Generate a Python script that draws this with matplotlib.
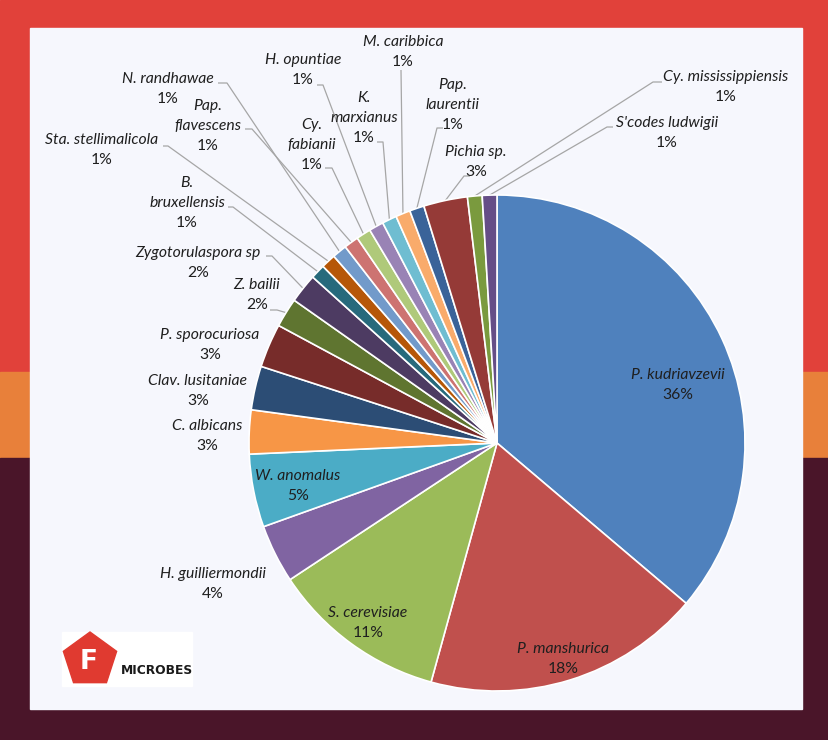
import numpy as np
import matplotlib
matplotlib.use("Agg")
import matplotlib.pyplot as plt
from matplotlib.patches import Rectangle, RegularPolygon

plt.rcParams['font.family'] = ['Lato', 'DejaVu Sans']

# isolates per species (105 in total), clockwise from 12 o'clock
species = ["P. kudriavzevii", "P. manshurica", "S. cerevisiae", "H. guilliermondii",
           "W. anomalus", "C. albicans", "Clav. lusitaniae", "P. sporocuriosa",
           "Z. bailii", "Zygotorulaspora sp", "B. bruxellensis", "Sta. stellimalicola",
           "N. randhawae", "Pap. flavescens", "Cy. fabianii", "H. opuntiae",
           "K. marxianus", "M. caribbica", "Pap. laurentii", "Pichia sp.",
           "Cy. mississippiensis", "S'codes ludwigii"]
counts = [38, 19, 12, 4, 5, 3, 3, 3, 2, 2, 1, 1, 1, 1, 1, 1, 1, 1, 1, 3, 1, 1]

colors = ["#4F81BD", "#C0504D", "#9BBB59", "#8064A2", "#4BACC6", "#F79646",
          "#2C4D75", "#772C2A", "#5F7530", "#4D3B62", "#276A7C", "#B65708",
          "#729ACA", "#CD7371", "#AFC97A", "#9983B5", "#6FBDD1", "#F9AB6B",
          "#3A6399", "#953A37", "#7A9A3E", "#654E87"]

# label layout (pixels, y down): centre x, first line y, leader stub (x0, x1, y)
inside = {"P. kudriavzevii": (678, 375), "P. manshurica": (563, 649),
          "S. cerevisiae": (368, 613), "W. anomalus": (298, 476)}
outside = {
    "H. guilliermondii": (213, 574, None),
    "C. albicans": (207, 426, None),
    "Clav. lusitaniae": (198, 381, None),
    "P. sporocuriosa": (210, 335, None),
    "Z. bailii": (257, 285, (270, 277, 310)),
    "Zygotorulaspora sp": (198, 253, (266, 272, 256)),
    "B. bruxellensis": (187, 183, (228, 233, 207)),
    "Sta. stellimalicola": (102, 140, (163, 168, 146)),
    "N. randhawae": (168, 79, (218, 227, 83)),
    "Pap. flavescens": (208, 106, (245, 252, 129)),
    "Cy. fabianii": (312, 125, (325, 332, 168)),
    "H. opuntiae": (303, 60, (317, 323, 85)),
    "K. marxianus": (364, 98, (377, 383, 142)),
    "M. caribbica": (403, 42, (401, 401, 70)),
    "Pap. laurentii": (453, 85, (443, 437, 128)),
    "Pichia sp.": (476, 152, (470, 464, 176)),
    "Cy. mississippiensis": (726, 77, (662, 653, 82)),
    "S'codes ludwigii": (667, 123, (613, 607, 127)),
}
wrap = {"B. bruxellensis": "B.\nbruxellensis", "Pap. flavescens": "Pap.\nflavescens",
        "Cy. fabianii": "Cy.\nfabianii", "K. marxianus": "K.\nmarxianus",
        "Pap. laurentii": "Pap.\nlaurentii"}

fig = plt.figure(figsize=(8.29, 7.40), dpi=100)
ax = fig.add_axes([0, 0, 1, 1])

# backdrop
ax.add_patch(Rectangle((0, 0), 829, 372, color="#E1413A", zorder=-5))
ax.add_patch(Rectangle((0, 372), 829, 86, color="#E8803A", zorder=-5))
ax.add_patch(Rectangle((0, 458), 829, 290, color="#4A1529", zorder=-5))
ax.add_patch(Rectangle((30, 28), 772, 681, color="#F6F7FD", zorder=-4))

cx, cy, R = 497, 443, 248
# y axis runs downward, so counterclockwise in data is clockwise on screen
wedges, _ = ax.pie(counts, colors=colors, startangle=-90, counterclock=True,
                   center=(cx, cy), radius=R,
                   wedgeprops=dict(edgecolor="white", linewidth=1.2))

total = sum(counts)
txt = "#1F1F1F"
fs = 11.3
for name, c, w in zip(species, counts, wedges):
    pct = f"{round(100 * c / total)}%"
    if name in inside:
        x, y = inside[name]
        lines = [name]
        stub = None
    else:
        x, y, stub = outside[name]
        lines = wrap.get(name, name).split("\n")
    for i, ln in enumerate(lines):
        ax.text(x, y + 20 * i, ln, ha="center", va="center", fontsize=fs,
                style="italic", color=txt)
    ax.text(x, y + 20 * len(lines), pct, ha="center", va="center",
            fontsize=fs, color=txt)
    if stub is not None:
        th = np.deg2rad((w.theta1 + w.theta2) / 2)
        ex, ey = cx + R * np.cos(th), cy + R * np.sin(th)
        x0, x1, ys = stub
        ax.plot([x0, x1, ex], [ys, ys, ey], color="#A6A6A6", lw=0.9,
                solid_capstyle="butt", zorder=0.5)

# logo
ax.add_patch(Rectangle((62, 632), 130, 54, color="white", zorder=2))
ax.add_patch(RegularPolygon((90, 660), 5, radius=28, orientation=np.pi,
                            color="#E03A30", zorder=3))
ax.text(89, 662, "F", ha="center", va="center", fontsize=19, weight="bold",
        color="white", family="DejaVu Sans", zorder=4)
ax.text(121, 670, "MICROBES", ha="left", va="center", fontsize=8.8,
        weight="bold", color="#1A1A1A", family="DejaVu Sans", zorder=4)

ax.set_xlim(0, 829)
ax.set_ylim(740, 0)
ax.set_aspect("auto")
ax.axis("off")

fig.savefig("out.png", dpi=100)
